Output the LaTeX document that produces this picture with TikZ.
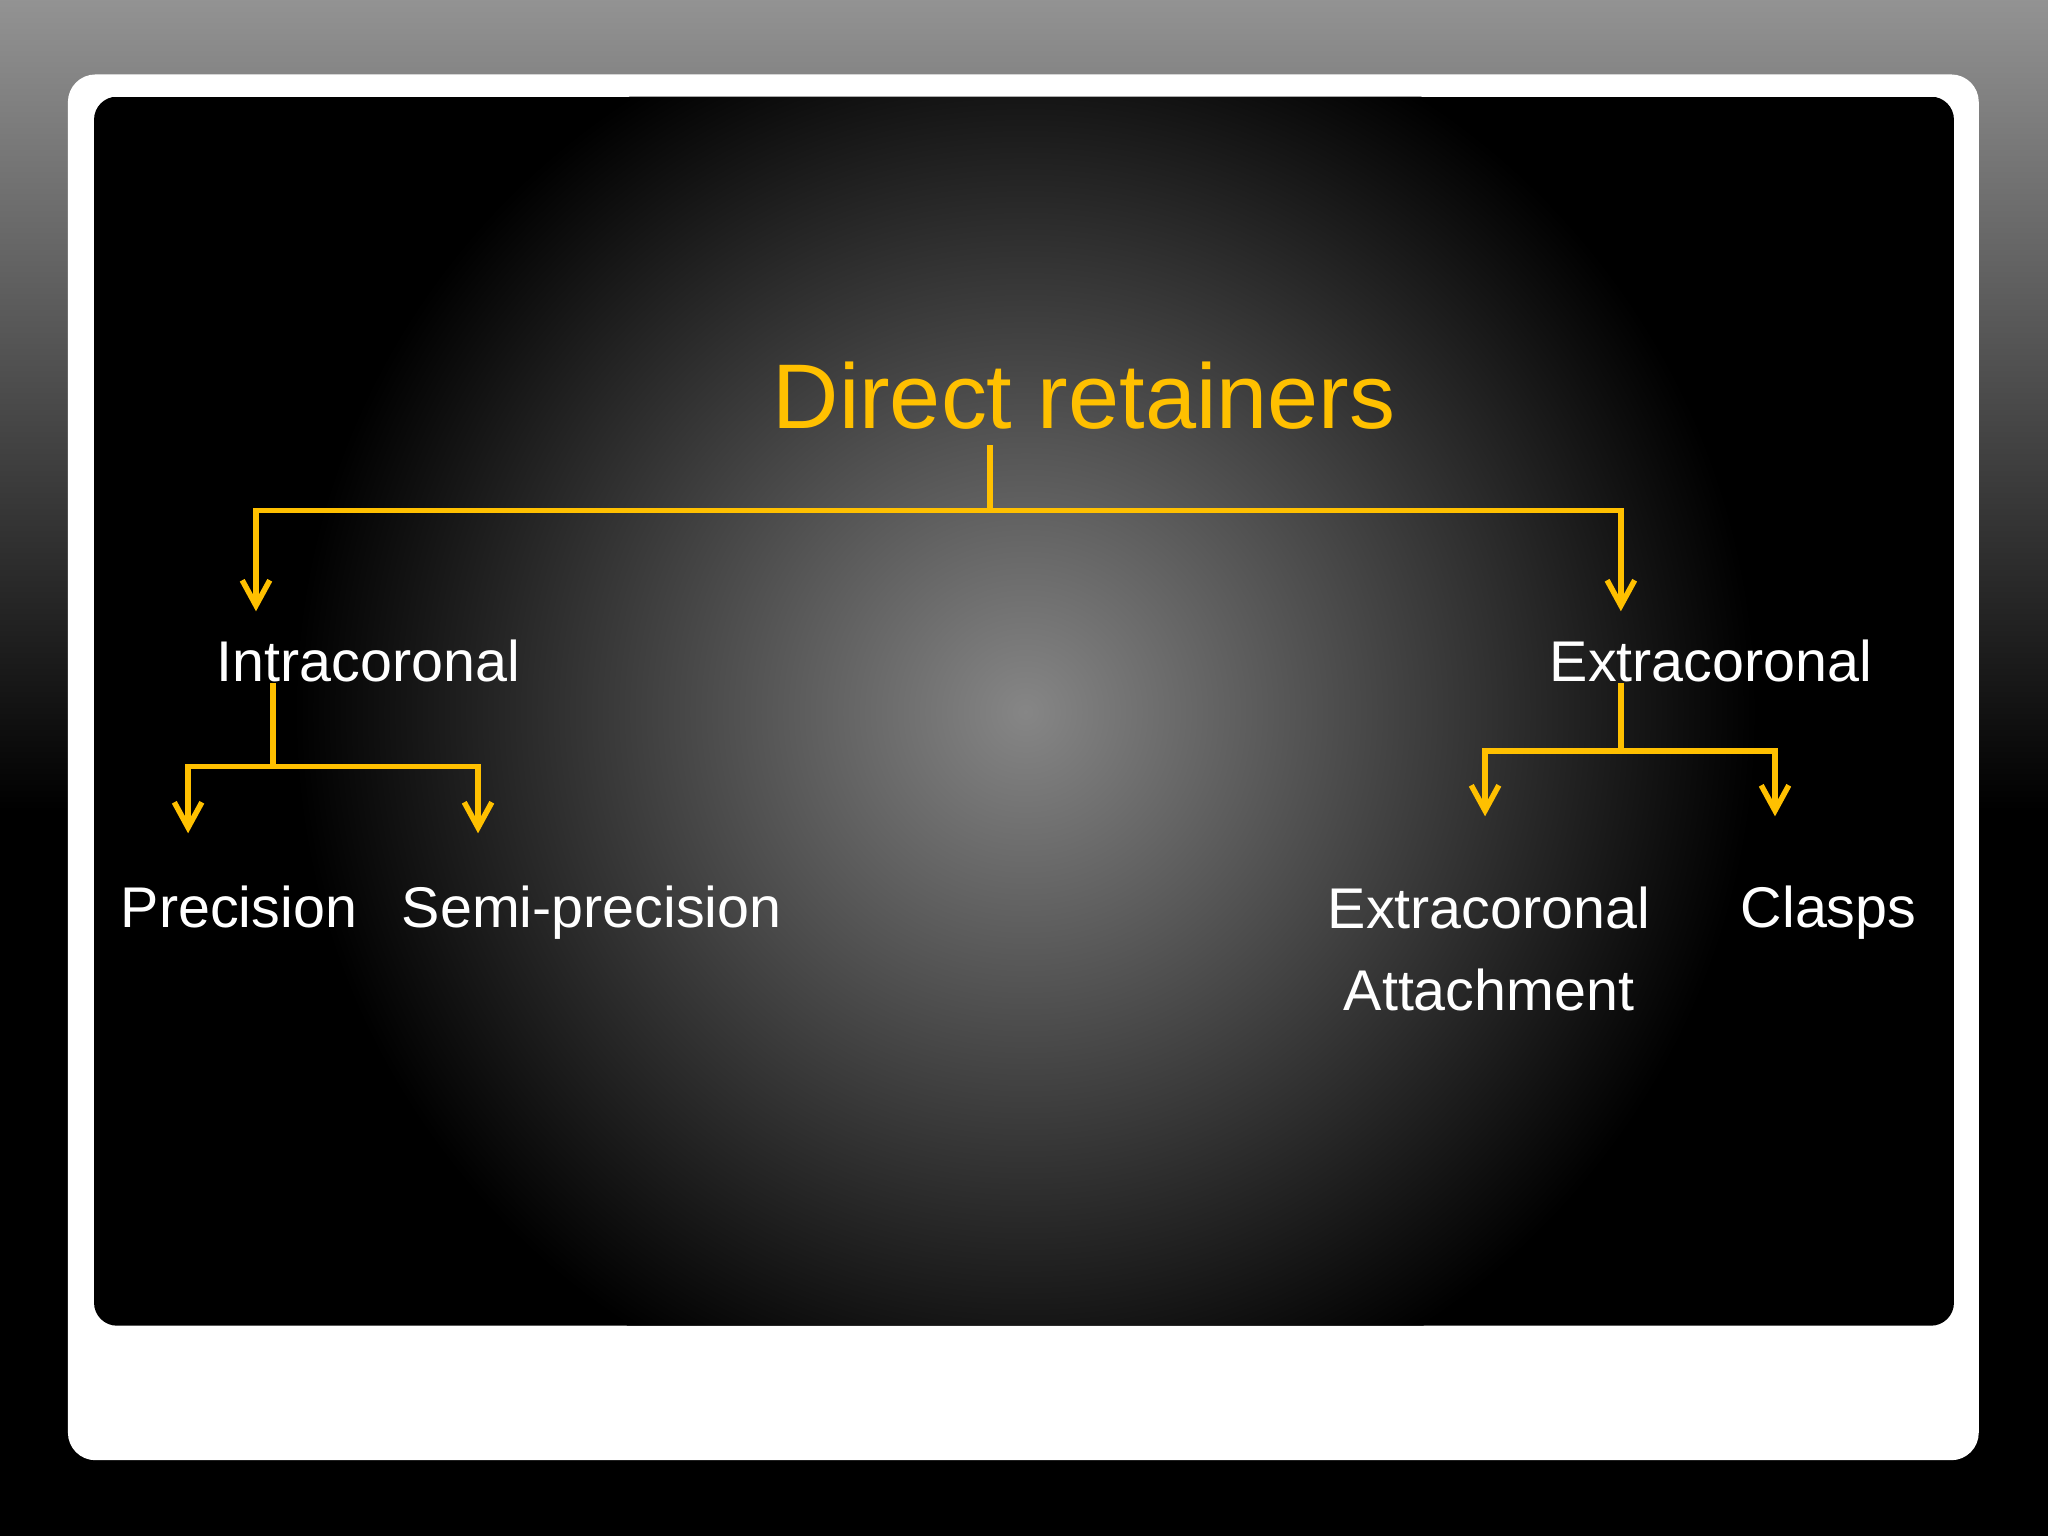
\documentclass[tikz,border=0pt]{standalone}
\usepackage{fontspec}
\setmainfont{Liberation Sans}
\usetikzlibrary{arrows.meta}
\definecolor{gold}{HTML}{FFC000}
\begin{document}
\begin{tikzpicture}[x=0.01cm,y=-0.01cm,
  conn/.style={gold,line width=1.2pt},
  arr/.style={conn,-{Straight Barb[length=5.5pt,width=6pt,line width=1.2pt]}},
  lbl/.style={white,font=\fontsize{12.5}{16}\selectfont,align=center,inner sep=0,anchor=base}]
\useasboundingbox (0,0) rectangle (1568,1176);
\fill[black] (0,0) rectangle (1568,1176);
\shade[top color=gray!85!white,bottom color=black] (0,0) rectangle (1568,620);
\fill[white,rounded corners=6pt] (52,57) rectangle (1515,1118);
\begin{scope}
\clip[rounded corners=5pt] (72,74) rectangle (1496,1015);
\fill[black] (72,74) rectangle (1496,1015);
\shade[inner color=gray!95!white,outer color=black] (785,545) circle (560);
\end{scope}
\node[gold,font=\fontsize{20}{24}\selectfont,inner sep=0,anchor=base] (root) at (830,328) {Direct retainers};
\node[lbl] (intra) at (282,522) {Intracoronal};
\node[lbl] (extra) at (1310,522) {Extracoronal};
\node[lbl] (prec) at (183,710) {Precision};
\node[lbl] (semi) at (453,710) {Semi-precision};
\node[lbl,anchor=north] (att) at (1140,678) {Extracoronal\\[2pt]Attachment};
\node[lbl] (clasp) at (1400,710) {Clasps};
\coordinate (r1) at (758,341); \coordinate (r2) at (758,391);
\coordinate (rl) at (196,391); \coordinate (rr) at (1241,391);
\coordinate (rle) at (196,468); \coordinate (rre) at (1241,468);
\draw[conn] (r1) -- (r2);
\draw[arr] (r2) -- (rl) -- (rle);
\draw[arr] (r2) -- (rr) -- (rre);
\coordinate (i1) at (209,523); \coordinate (i2) at (209,587);
\draw[conn] (i1) -- (i2);
\draw[arr] (i2) -- (144,587) -- (144,638);
\draw[arr] (i2) -- (366,587) -- (366,638);
\coordinate (e1) at (1241,523); \coordinate (e2) at (1241,575);
\draw[conn] (e1) -- (e2);
\draw[arr] (e2) -- (1137,575) -- (1137,625);
\draw[arr] (e2) -- (1359,575) -- (1359,625);
\end{tikzpicture}
\end{document}
